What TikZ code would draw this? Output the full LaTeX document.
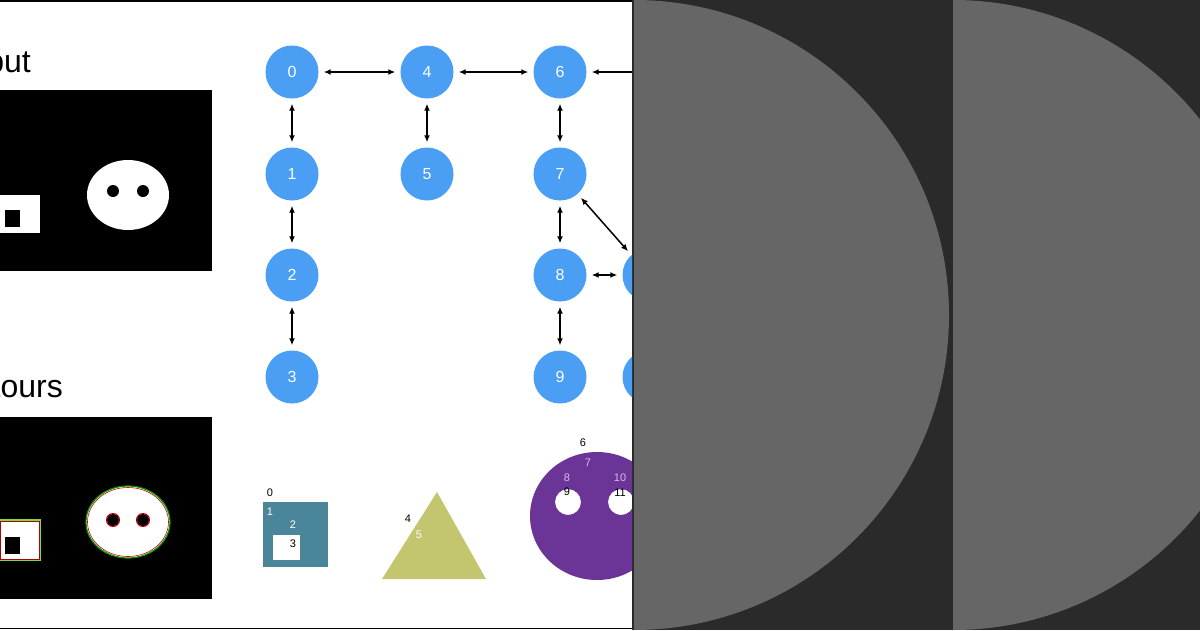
\documentclass[tikz,border=0pt]{standalone}
\usepackage{fontspec}
\setmainfont{Liberation Sans}
\usetikzlibrary{arrows.meta}
\definecolor{nodeblue}{HTML}{4A9FF5}
\definecolor{teal}{HTML}{4A8599}
\definecolor{olive}{HTML}{C3C66F}
\definecolor{purp}{HTML}{6A3596}
\definecolor{lpurp}{HTML}{D8B8F0}
\definecolor{darkbg}{HTML}{2A2A2A}
\definecolor{halfgray}{HTML}{666666}
\begin{document}
\begin{tikzpicture}[x=1pt,y=-1pt,
  gnode/.style={circle,fill=nodeblue,minimum size=53pt,inner sep=0pt,text=white,font=\fontsize{16}{16}\selectfont},
  link/.style={{Latex[length=7pt,width=6pt]}-{Latex[length=7pt,width=6pt]},line width=1.5pt,shorten >=5pt,shorten <=5pt},
  lab/.style={font=\fontsize{11}{11}\selectfont,inner sep=0pt},
  title/.style={anchor=base east,inner sep=0pt,font=\fontsize{32}{32}\selectfont}]
\useasboundingbox (0,0) rectangle (1200,630);
\fill[darkbg] (0,0) rectangle (1200,630);
\begin{scope}
\clip (953,0) rectangle (1200,630);
\fill[halfgray] (953,0) arc[start angle=-90,end angle=90,radius=315] -- cycle;
\end{scope}
\fill[halfgray] (634,0) arc[start angle=-90,end angle=90,radius=315] -- cycle;
\fill[white] (0,0) rectangle (632,630);
\begin{scope}
\clip (0,0) rectangle (632,630);
\draw[line width=1.5pt] (0,1) -- (632,1);
\draw[line width=1.5pt] (0,628.5) -- (632,628.5);
% left texts
\node[title] (tin) at (31,72) {Input};
\node[title] (tco) at (63,397) {Contours};
% input image
\fill[black] (0,90) rectangle (212,271);
\fill[white] (0,195) rectangle (40,233);
\fill[black] (5,210) rectangle (20,227);
\fill[white] (128,195) ellipse[x radius=41,y radius=35];
\fill[black] (113,191) circle (6); \fill[black] (143,191) circle (6);
% contours image
\fill[black] (0,417) rectangle (212,599);
\draw[olive!60!green,line width=1.2pt,fill=white] (-1,520) rectangle (40,560);
\draw[red!70!black,line width=0.6pt] (0,521) rectangle (39,559);
\fill[black] (5,537) rectangle (20,554);
\draw[green!60!black,line width=1.2pt,fill=white] (128,522) ellipse[x radius=42,y radius=36];
\draw[red!80!black,line width=0.6pt] (128,522) ellipse[x radius=40.5,y radius=34.5];
\fill[black] (113,520) circle (6); \fill[black] (143,520) circle (6);
\draw[red!70!black,line width=1pt] (113,520) circle (6.5); \draw[red!70!black,line width=1pt] (143,520) circle (6.5);
% graph
\node[gnode] (n0) at (292,72) {0};
\node[gnode] (n4) at (427,72) {4};
\node[gnode] (n6) at (560,72) {6};
\node[gnode] (n1) at (292,174) {1};
\node[gnode] (n5) at (427,174) {5};
\node[gnode] (n7) at (560,174) {7};
\node[gnode] (n2) at (292,275) {2};
\node[gnode] (n8) at (560,275) {8};
\node[gnode] (n10) at (649,275) {10};
\node[gnode] (n3) at (292,377) {3};
\node[gnode] (n9) at (560,377) {9};
\node[gnode] (n11) at (649,377) {11};
\node[gnode] (n12) at (700,72) {12};
\draw[link] (n0) -- (n4);
\draw[link] (n4) -- (n6);
\draw[link] (n12) -- (n6);
\draw[link] (n0) -- (n1);
\draw[link] (n1) -- (n2);
\draw[link] (n2) -- (n3);
\draw[link] (n4) -- (n5);
\draw[link] (n6) -- (n7);
\draw[link] (n7) -- (n8);
\draw[link] (n8) -- (n9);
\draw[link] (n7) -- (n10);
\draw[link] (n8) -- (n10);
% shapes
\fill[teal] (263,502) rectangle (328,567);
\fill[white] (273,535) rectangle (300,560);
\node[lab] (l0) at (270,493) {0};
\node[lab,text=white] (l1) at (270,512) {1};
\node[lab,text=white] (l2) at (293,525) {2};
\node[lab] (l3) at (293,544) {3};
\fill[olive] (382,579) -- (486,579) -- (437,492) -- cycle;
\node[lab] (l4) at (408,519) {4};
\node[lab,text=white] (l5) at (419,535) {5};
\fill[purp,even odd rule] (597,516) ellipse[x radius=67,y radius=64] (568,502) circle (13) (621,502) circle (13);
\node[lab] (l6) at (583,443) {6};
\node[lab,text=lpurp] (l7) at (588,463) {7};
\node[lab,text=lpurp] (l8) at (567,478) {8};
\node[lab] (l9) at (567,492) {9};
\node[lab,text=lpurp] (l10) at (620,478) {10};
\node[lab] (l11) at (620,493) {11};
\end{scope}
\end{tikzpicture}
\end{document}
